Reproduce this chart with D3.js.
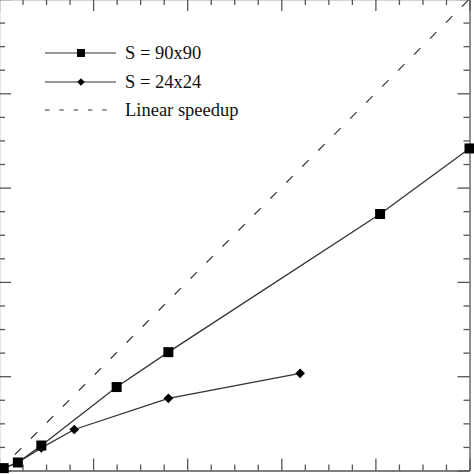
<!DOCTYPE html>
<html>
<head>
<meta charset="utf-8">
<script src="https://cdn.jsdelivr.net/npm/d3@7"></script>
<style>
  body { margin: 0; background: #fff; }
  svg { display: block; }
</style>
</head>
<body>
<svg id="svgMain" width="474" height="474"></svg>
<script>
// data
const procs90 = [1, 4, 9, 25, 36, 81, 100];
const speed90 = [0.5, 1.7, 5.3, 17.7, 25.1, 54.4, 68.3];
const procs24 = [1, 4, 9, 16, 36, 64];
const speed24 = [0.5, 1.7, 4.8, 8.7, 15.3, 20.6];
const linearX = [0, 100];
const legendLabels = ["S = 90x90", "S = 24x24", "Linear speedup"];
const majorTicks = [0, 20, 40, 60, 80, 100];
const minorTicks = d3.range(0, 101, 5).filter(v => v % 20 !== 0);

let svgMain = d3.select("#svgMain");

// plot box (slightly cropped on the left and top like the original)
const xScale = d3.scaleLinear().domain([0, 100]).range([-1, 469.5]);
const yScale = d3.scaleLinear().domain([0, 100]).range([470.5, -1]);

const axisColor = "#555";
const lineColor = "#333";

function drawAxis(axisFn, scale, transform) {
    // major ticks
    svgMain.append("g")
        .attr("transform", transform)
        .call(axisFn(scale).tickValues(majorTicks).tickSize(-12).tickSizeOuter(0).tickFormat(""))
        .call(g => g.selectAll("path, line").attr("stroke", axisColor).attr("stroke-width", 1.3));
    // minor ticks
    svgMain.append("g")
        .attr("transform", transform)
        .call(axisFn(scale).tickValues(minorTicks).tickSize(-6).tickSizeOuter(0).tickFormat(""))
        .call(g => g.select(".domain").remove())
        .call(g => g.selectAll("line").attr("stroke", axisColor).attr("stroke-width", 1.3));
}

drawAxis(d3.axisBottom, xScale, "translate(0," + yScale(0) + ")");
drawAxis(d3.axisTop, xScale, "translate(0," + yScale(100) + ")");
drawAxis(d3.axisLeft, yScale, "translate(" + xScale(0) + ",0)");
drawAxis(d3.axisRight, yScale, "translate(" + xScale(100) + ",0)");

const plot = svgMain.append("g");

const line = d3.line()
    .x(d => xScale(d[0]))
    .y(d => yScale(d[1]));

// linear speedup
plot.append("path")
    .attr("d", line(linearX.map(v => [v, v])))
    .attr("fill", "none")
    .attr("stroke", lineColor)
    .attr("stroke-width", 1.2)
    .attr("stroke-dasharray", "9,13.6");

const data90 = procs90.map((p, i) => [p, speed90[i]]);
const data24 = procs24.map((p, i) => [p, speed24[i]]);

plot.append("path")
    .attr("d", line(data24))
    .attr("fill", "none")
    .attr("stroke", lineColor)
    .attr("stroke-width", 1.3);

plot.append("path")
    .attr("d", line(data90))
    .attr("fill", "none")
    .attr("stroke", lineColor)
    .attr("stroke-width", 1.3);

const diamond = d3.symbol().type(d3.symbolDiamond2).size(60);

plot.selectAll("path.diamond")
    .data(data24)
    .enter().append("path")
    .attr("class", "diamond")
    .attr("d", diamond)
    .attr("transform", d => "translate(" + xScale(d[0]) + "," + yScale(d[1]) + ")")
    .attr("fill", "#000");

const sq = 10;
plot.selectAll("rect.square")
    .data(data90)
    .enter().append("rect")
    .attr("class", "square")
    .attr("x", d => xScale(d[0]) - sq / 2)
    .attr("y", d => yScale(d[1]) - sq / 2)
    .attr("width", sq)
    .attr("height", sq)
    .attr("fill", "#000");

// legend
const legend = svgMain.append("g");
const legX0 = 45, legX1 = 116, legMid = 81;
const legY = [53, 82, 110];

legendLabels.forEach((label, i) => {
    legend.append("line")
        .attr("x1", legX0).attr("x2", legX1)
        .attr("y1", legY[i]).attr("y2", legY[i])
        .attr("stroke", lineColor)
        .attr("stroke-width", 1.2)
        .attr("stroke-dasharray", i === 2 ? "4.5,9.8" : null);

    if (i === 0) {
        legend.append("rect")
            .attr("x", legMid - 4).attr("y", legY[i] - 4)
            .attr("width", 8).attr("height", 8)
            .attr("fill", "#000");
    } else if (i === 1) {
        legend.append("path")
            .attr("d", d3.symbol().type(d3.symbolDiamond2).size(36)())
            .attr("transform", "translate(" + legMid + "," + legY[i] + ")")
            .attr("fill", "#000");
    }

    legend.append("text")
        .attr("x", 125)
        .attr("y", legY[i] + 6)
        .attr("font-family", "Liberation Serif, Times New Roman, serif")
        .attr("font-size", "18.5px")
        .attr("fill", "#111")
        .text(label);
});
</script>
</body>
</html>
